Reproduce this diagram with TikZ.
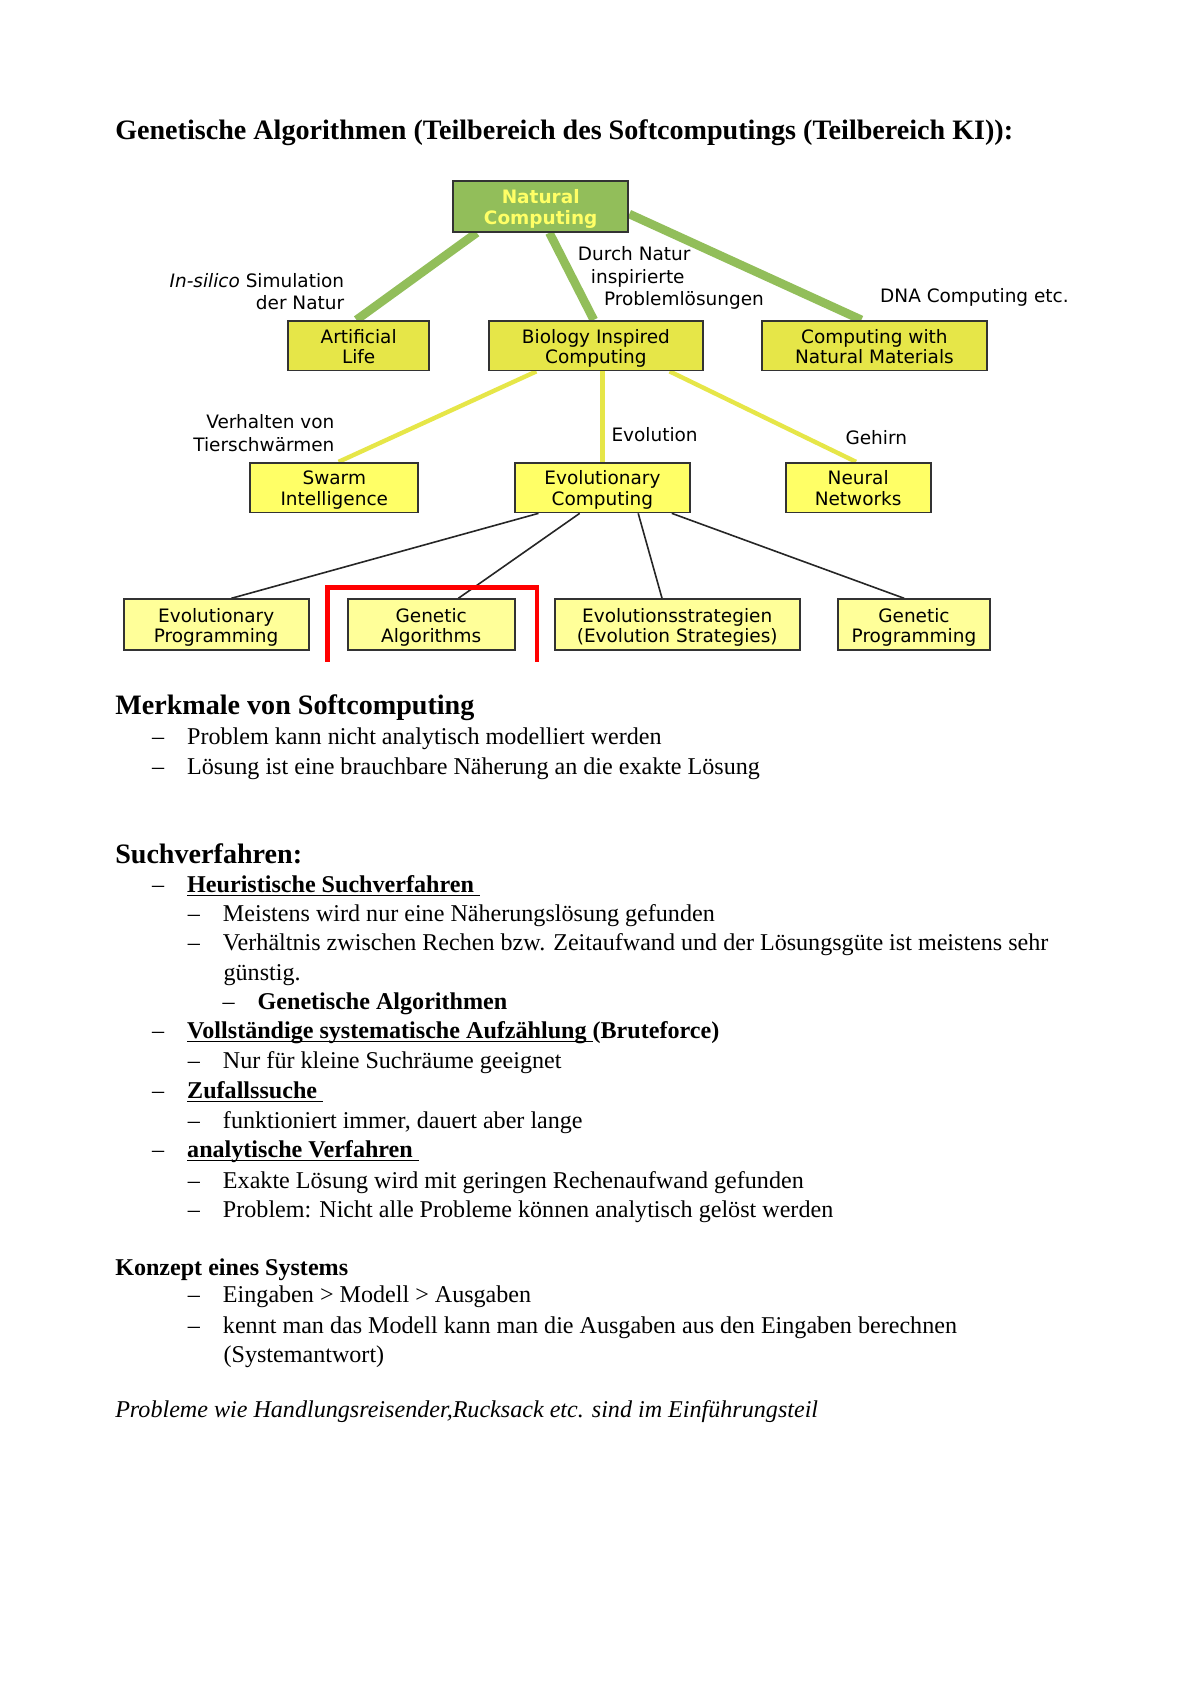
\documentclass[tikz,border=0pt]{standalone}
\usepackage{fontspec}
\setmainfont{Liberation Serif}
\newfontfamily\dia{DejaVu Sans}
\usetikzlibrary{calc,backgrounds}
\definecolor{natgreen}{RGB}{146,190,90}
\definecolor{natyellow}{RGB}{255,255,102}
\definecolor{lvlone}{RGB}{230,230,72}
\definecolor{lvltwo}{RGB}{255,255,102}
\definecolor{lvlthree}{RGB}{255,255,153}
\newcommand\ulx[1]{\underline{\smash{#1}}}
\newcommand\twol[2]{\rule[-3.2pt]{0pt}{24.4pt}\begin{tabular}[b]{@{}c@{}}#1\\#2\end{tabular}}
\begin{document}
\begin{tikzpicture}[x=0.018962cm, y=-0.018962cm,
          box/.style={draw=black!80, line width=0.9pt, inner sep=0pt, minimum height=0.87cm, font=\dia\fontsize{9.2}{10.3}\selectfont},
          natbox/.style={box, fill=natgreen, text=natyellow, font=\dia\bfseries\fontsize{9.2}{10.3}\selectfont},
          boxA/.style={box, fill=lvlone},
          boxB/.style={box, fill=lvltwo},
          boxC/.style={box, fill=lvlthree, minimum height=0.89cm},
          lbl/.style={inner sep=0pt, font=\dia\fontsize{9.2}{11.3}\selectfont},
          eA/.style={natgreen, line width=4.3pt},
          eB/.style={lvlone, line width=2.2pt},
          eC/.style={black!85, line width=0.8pt},
          hilite/.style={red, line width=2.2pt},
          txt/.style={anchor=base west, inner sep=0pt, font=\fontsize{12}{14}\selectfont},
          head/.style={txt, font=\bfseries\fontsize{14}{16}\selectfont}]
\useasboundingbox (0,0) rectangle (1107.5,1567.1);

\node[head] (title) at (106,129) {Genetische Algorithmen (Teilbereich des Softcomputings (Teilbereich KI)):};

% diagram
\node[natbox, minimum width=3.07cm, minimum height=0.89cm] (nat) at (499,190.5) {\twol{Natural}{Computing}};
\node[boxA, minimum width=2.47cm] (al) at (331,319) {\twol{Artificial}{Life}};
\node[boxA, minimum width=3.75cm] (bic) at (550,319) {\twol{Biology Inspired}{Computing}};
\node[boxA, minimum width=3.94cm] (cwnm) at (807,319) {\twol{Computing with}{Natural Materials}};
\node[boxB, minimum width=2.94cm] (sw) at (308.5,450) {\twol{Swarm}{Intelligence}};
\node[boxB, minimum width=3.07cm] (ec) at (556,450) {\twol{Evolutionary}{Computing}};
\node[boxB, minimum width=2.54cm] (nn) at (792,450) {\twol{Neural}{Networks}};
\node[boxC, minimum width=3.24cm] (ep) at (199.5,576.5) {\twol{Evolutionary}{Programming}};
\node[boxC, minimum width=2.92cm] (ga) at (398,576.5) {\twol{Genetic}{Algorithms}};
\node[boxC, minimum width=4.29cm] (es) at (625,576.5) {\twol{Evolutionsstrategien}{(Evolution Strategies)}};
\node[boxC, minimum width=2.67cm] (gp) at (843.5,576.5) {\twol{Genetic}{Programming}};

\node[lbl, anchor=east, align=right] (insilico) at (318,269) {\textit{In-silico} Simulation\\der Natur};
\node[lbl, anchor=west, align=left] (durch) at (533,256.5) {Durch Natur\\\hspace*{6.5pt}inspirierte\\\hspace*{13pt}Problemlösungen};
\node[lbl, anchor=base west] (dna) at (812,279) {DNA Computing etc.};
\node[lbl, anchor=east, align=right] (verh) at (309,399.5) {Verhalten von\\Tierschwärmen};
\node[lbl, anchor=base west] (evo) at (564,407.5) {Evolution};
\node[lbl, anchor=base west] (geh) at (780,410.5) {Gehirn};

\begin{scope}[on background layer]
\draw[eA] ($(nat.south)+(-59,0)$) -- ($(al.north)+(-2,0)$);
\draw[eA] ($(nat.south)+(8,0)$) -- ($(bic.north)+(-2,0)$);
\draw[eA] ($(nat.east)+(0,7)$) -- ($(cwnm.north)+(-12,0)$);
\draw[eB] ($(bic.south)+(-55,0)$) -- ($(sw.north)+(4,0)$);
\draw[eB] (ec.north |- bic.south) -- (ec.north);
\draw[eB] ($(bic.south)+(68,0)$) -- ($(nn.north)+(-2,0)$);
\draw[eC] ($(ec.south)+(-59,0)$) -- ($(ep.north)+(14,0)$);
\draw[eC] ($(ec.south)+(-21,0)$) -- ($(ga.north)+(25,0)$);
\draw[eC] ($(ec.south)+(33,0)$) -- ($(es.north)+(-14,0)$);
\draw[eC] ($(ec.south)+(64,0)$) -- ($(gp.north)+(-9,0)$);
\end{scope}
\draw[hilite] ($(ga.south west)+(-18,10)$) |- ($(ga.north east)+(20,-10)$) -- ($(ga.south east)+(20,10)$);

% text
\node[head] (merk) at (106,659.5) {Merkmale von Softcomputing};
\node[head] (such) at (106,796.5) {Suchverfahren:};
\node[txt, font=\bfseries\fontsize{12}{14}\selectfont] (konz) at (106,1177.5) {Konzept eines Systems};
\foreach \y/\x/\t [count=\i] in {
  687.5/140/Problem kann nicht analytisch modelliert werden,
  714.5/140/Lösung ist eine brauchbare Näherung an die exakte Lösung,
  823.5/140/\textbf{\ulx{Heuristische Suchverfahren\ }},
  850.5/173/Meistens wird nur eine Näherungslösung gefunden,
  877.5/173/Verhältnis zwischen Rechen bzw. Zeitaufwand und der Lösungsgüte ist meistens sehr,
  931.5/205/\textbf{Genetische Algorithmen},
  958.5/140/\textbf{\ulx{Vollständige systematische Aufzählung\ }(Bruteforce)},
  986.5/173/Nur für kleine Suchräume geeignet,
  1013.5/140/\textbf{\ulx{Zufallssuche\ }},
  1041.5/173/{funktioniert immer, dauert aber lange},
  1068.5/140/\textbf{\ulx{analytische Verfahren\ }},
  1096.5/173/Exakte Lösung wird mit geringen Rechenaufwand gefunden,
  1123.5/173/Problem: Nicht alle Probleme können analytisch gelöst werden,
  1202.5/173/Eingaben > Modell > Ausgaben,
  1230.5/173/kennt man das Modell kann man die Ausgaben aus den Eingaben berechnen}
  \node[txt] (item\i) at (\x,\y) {\makebox[17.5pt][l]{--}\t};
\node[txt] (guenstig) at (206,904.5) {günstig.};
\node[txt] (sysant) at (206,1257.5) {(Systemantwort)};
\node[txt, font=\itshape\fontsize{12}{14}\selectfont] (probl) at (106,1308.5) {Probleme wie Handlungsreisender,Rucksack etc. sind im Einführungsteil};
\end{tikzpicture}
\end{document}
